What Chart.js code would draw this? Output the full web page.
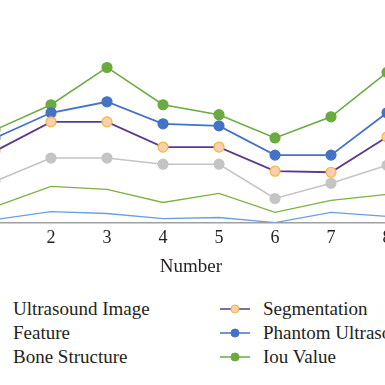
<!DOCTYPE html>
<html>
<head>
<meta charset="utf-8">
<script src="https://cdn.jsdelivr.net/npm/chart.js@4.4.1/dist/chart.umd.min.js"></script>
<style>
  html, body { margin: 0; padding: 0; width: 385px; height: 385px; overflow: hidden; background: #fff; }
  #wrap { position: absolute; left: -60px; top: 0; width: 460px; height: 278px; }
  #legend { position: absolute; left: -30px; top: 297px; width: 520px;
            font-family: "Liberation Serif", "DejaVu Serif", serif; font-size: 19px; color: #231f20; }
  .lg-item { position: absolute; display: flex; align-items: center; height: 24px; white-space: nowrap; }
  .lg-item svg { margin-right: 13px; }
</style>
</head>
<body>
<div id="wrap"><canvas id="chart"></canvas></div>
<div id="legend"></div>
<script>
// ─── Data ───────────────────────────────────────────────────
const categories       = ["1", "2", "3", "4", "5", "6", "7", "8"];
const ultrasoundImage  = [1.4, 5.2, 4.3, 1.9, 2.4, 0.0, 4.8, 2.9];
const feature          = [7.6, 17.1, 15.7, 9.5, 13.8, 4.8, 10.5, 13.3];
const boneStructure    = [19.5, 30.5, 30.5, 27.6, 27.6, 11.4, 18.6, 27.1];
const segmentation     = [33.8, 47.6, 47.6, 35.7, 35.7, 24.3, 23.8, 40.5];
const phantomUltra     = [40.0, 51.9, 57.1, 46.7, 45.7, 31.9, 31.9, 51.9];
const iouValue         = [43.8, 55.7, 73.3, 55.7, 51.0, 40.0, 50.0, 71.0];
const yMin = 0, yMax = 100;

const FONT = "'Liberation Serif', 'DejaVu Serif', serif";

function series(label, data, color, opts = {}) {
  return {
    label, data,
    borderColor: color,
    backgroundColor: opts.fill || color,
    borderWidth: opts.width || 1.6,
    pointRadius: opts.points ? 5 : 0,
    pointHoverRadius: opts.points ? 5 : 0,
    pointBackgroundColor: opts.fill || color,
    pointBorderColor: opts.pointBorder || color,
    pointBorderWidth: 1.2,
    tension: 0
  };
}

// legend order: left column then right column
const datasets = [
  series("Ultrasound Image", ultrasoundImage, "#6a9fe0", { width: 1.3 }),
  series("Feature",          feature,         "#7fb043", { width: 1.3 }),
  series("Bone Structure",   boneStructure,   "#c4c4c4", { width: 1.6, points: true }),
  series("Segmentation",     segmentation,    "#5b3a8e", { width: 1.8, points: true, fill: "#f9cfb0", pointBorder: "#f2b83a" }),
  series("Phantom Ultrasound", phantomUltra,  "#4472c4", { width: 1.8, points: true }),
  series("Iou Value",        iouValue,        "#6aab3f", { width: 1.5, points: true })
];

// ─── Chart ──────────────────────────────────────────────────
const chart = new Chart(document.getElementById("chart").getContext("2d"), {
  type: "line",
  data: { labels: categories, datasets },
  options: {
    responsive: true, maintainAspectRatio: false, animation: false,
    layout: { padding: { left: 55, right: 13, top: 11, bottom: 0 } },
    plugins: { legend: { display: false }, tooltip: { enabled: false } },
    scales: {
      x: {
        offset: false,
        grid: { display: false, drawTicks: false },
        border: { display: true, color: "#a0a0a0", width: 1.5 },
        ticks: { color: "#231f20", font: { family: FONT, size: 18 }, padding: 5, autoSkip: false, maxRotation: 0 },
        title: { display: true, text: "Number", color: "#231f20", font: { family: FONT, size: 19 }, padding: { top: 1, bottom: 0 } }
      },
      y: { display: false, min: yMin, max: yMax }
    }
  }
});

// ─── HTML legend, two columns ───────────────────────────────
function markerSvg(ds) {
  const dot = ds.pointRadius > 0
    ? `<circle cx="15" cy="6" r="4" fill="${ds.pointBackgroundColor}" stroke="${ds.pointBorderColor}" stroke-width="1"/>`
    : "";
  return `<svg width="30" height="12"><line x1="0" y1="6" x2="30" y2="6" stroke="${ds.borderColor}" stroke-width="1.5"/>${dot}</svg>`;
}

function renderLegend() {
  const box = document.getElementById("legend");
  box.innerHTML = chart.data.datasets.map((ds, i) => {
    const col = Math.floor(i / 3), row = i % 3;
    return `<div class="lg-item" style="left:${col * 250}px;top:${row * 24}px">${markerSvg(ds)}<span>${ds.label}</span></div>`;
  }).join("");
}
renderLegend();
</script>
</body>
</html>
